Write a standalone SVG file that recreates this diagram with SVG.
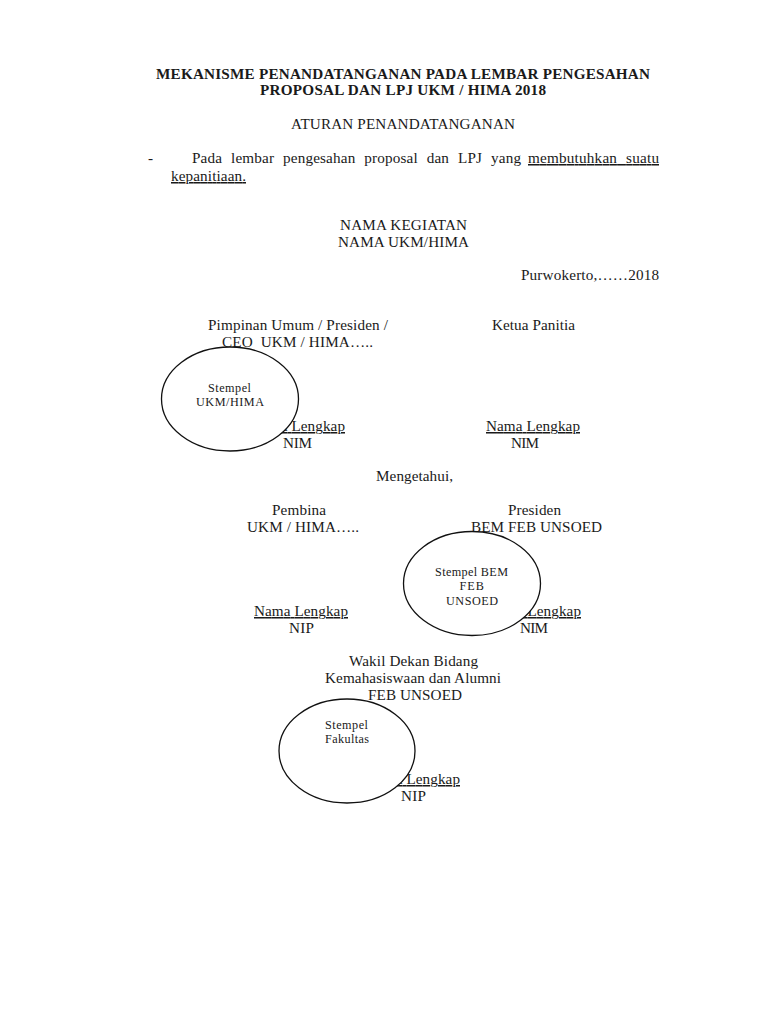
<svg xmlns="http://www.w3.org/2000/svg" width="768" height="1024" viewBox="0 0 768 1024">
<style>
text{font-family:"Liberation Serif","Times New Roman",serif;font-size:15.2px;fill:#1a1a1a}
.b{font-weight:bold}
.u{text-decoration:underline;text-decoration-skip-ink:none}
.s{font-size:12.2px}
.e{fill:#fff;stroke:#111;stroke-width:1.3}
</style>
<rect width="768" height="1024" fill="#fff"/>
<g id="header">
<text class="b" x="156" y="79" textLength="494" lengthAdjust="spacing">MEKANISME PENANDATANGANAN PADA LEMBAR PENGESAHAN</text>
<text class="b" x="260" y="95" textLength="286" lengthAdjust="spacing">PROPOSAL DAN LPJ UKM / HIMA 2018</text>
<text x="291" y="129" textLength="224" lengthAdjust="spacing">ATURAN PENANDATANGANAN</text>
<text x="148" y="163">-</text>
<text x="192" y="163" textLength="329" lengthAdjust="spacing" style="word-spacing:5px">Pada lembar pengesahan proposal dan LPJ yang</text>
<text class="u" x="528" y="163" textLength="131" lengthAdjust="spacing" style="word-spacing:5px">membutuhkan suatu</text>
<text class="u" x="171" y="181" textLength="75" lengthAdjust="spacing">kepanitiaan.</text>
<text x="340" y="230" textLength="127" lengthAdjust="spacing">NAMA KEGIATAN</text>
<text x="338" y="247" textLength="131" lengthAdjust="spacing">NAMA UKM/HIMA</text>
<text x="521" y="280" textLength="138" lengthAdjust="spacing">Purwokerto,……2018</text>
</g>
<g id="pimpinan">
<text x="208" y="330" textLength="180" lengthAdjust="spacing">Pimpinan Umum / Presiden /</text>
<text x="222" y="347" textLength="151" lengthAdjust="spacing" xml:space="preserve">CEO  UKM / HIMA…..</text>
<text class="u" x="251" y="431" textLength="94" lengthAdjust="spacing">Nama Lengkap</text>
<text x="283" y="448" textLength="29" lengthAdjust="spacing">NIM</text>
</g>
<g id="stempel-ukm">
<ellipse class="e" cx="230" cy="399" rx="68.5" ry="52"/>
<text class="s" x="208" y="392" textLength="43" lengthAdjust="spacing">Stempel</text>
<text class="s" x="196" y="406" textLength="68" lengthAdjust="spacing">UKM/HIMA</text>
</g>
<g id="ketua">
<text x="492" y="330" textLength="83" lengthAdjust="spacing">Ketua Panitia</text>
<text class="u" x="486" y="431" textLength="94" lengthAdjust="spacing">Nama Lengkap</text>
<text x="511" y="448" textLength="28" lengthAdjust="spacing">NIM</text>
</g>
<g id="mengetahui">
<text x="376" y="481" textLength="77" lengthAdjust="spacing">Mengetahui,</text>
</g>
<g id="pembina">
<text x="272" y="515" textLength="54" lengthAdjust="spacing">Pembina</text>
<text x="247" y="532" textLength="112" lengthAdjust="spacing">UKM / HIMA…..</text>
<text class="u" x="254" y="616" textLength="94" lengthAdjust="spacing">Nama Lengkap</text>
<text x="289" y="633" textLength="25" lengthAdjust="spacing">NIP</text>
</g>
<g id="presiden">
<text x="508" y="515" textLength="53" lengthAdjust="spacing">Presiden</text>
<text x="471" y="532" textLength="131" lengthAdjust="spacing">BEM FEB UNSOED</text>
<text class="u" x="487" y="616" textLength="94" lengthAdjust="spacing">Nama Lengkap</text>
<text x="520" y="633" textLength="28" lengthAdjust="spacing">NIM</text>
</g>
<g id="stempel-bem">
<ellipse class="e" cx="472" cy="583.5" rx="68.5" ry="52"/>
<text class="s" x="435" y="576" textLength="73" lengthAdjust="spacing">Stempel BEM</text>
<text class="s" x="459.5" y="590" textLength="24.5" lengthAdjust="spacing">FEB</text>
<text class="s" x="446" y="605" textLength="52" lengthAdjust="spacing">UNSOED</text>
</g>
<g id="wakil-dekan">
<text x="349" y="666" textLength="129" lengthAdjust="spacing">Wakil Dekan Bidang</text>
<text x="325" y="683" textLength="176" lengthAdjust="spacing">Kemahasiswaan dan Alumni</text>
<text x="368" y="700" textLength="94" lengthAdjust="spacing">FEB UNSOED</text>
<text class="u" x="366" y="784" textLength="94" lengthAdjust="spacing">Nama Lengkap</text>
<text x="401" y="801" textLength="25" lengthAdjust="spacing">NIP</text>
</g>
<g id="stempel-fakultas">
<ellipse class="e" cx="347" cy="751" rx="68" ry="52"/>
<text class="s" x="325" y="729" textLength="43" lengthAdjust="spacing">Stempel</text>
<text class="s" x="325" y="743" textLength="44" lengthAdjust="spacing">Fakultas</text>
</g>
</svg>
